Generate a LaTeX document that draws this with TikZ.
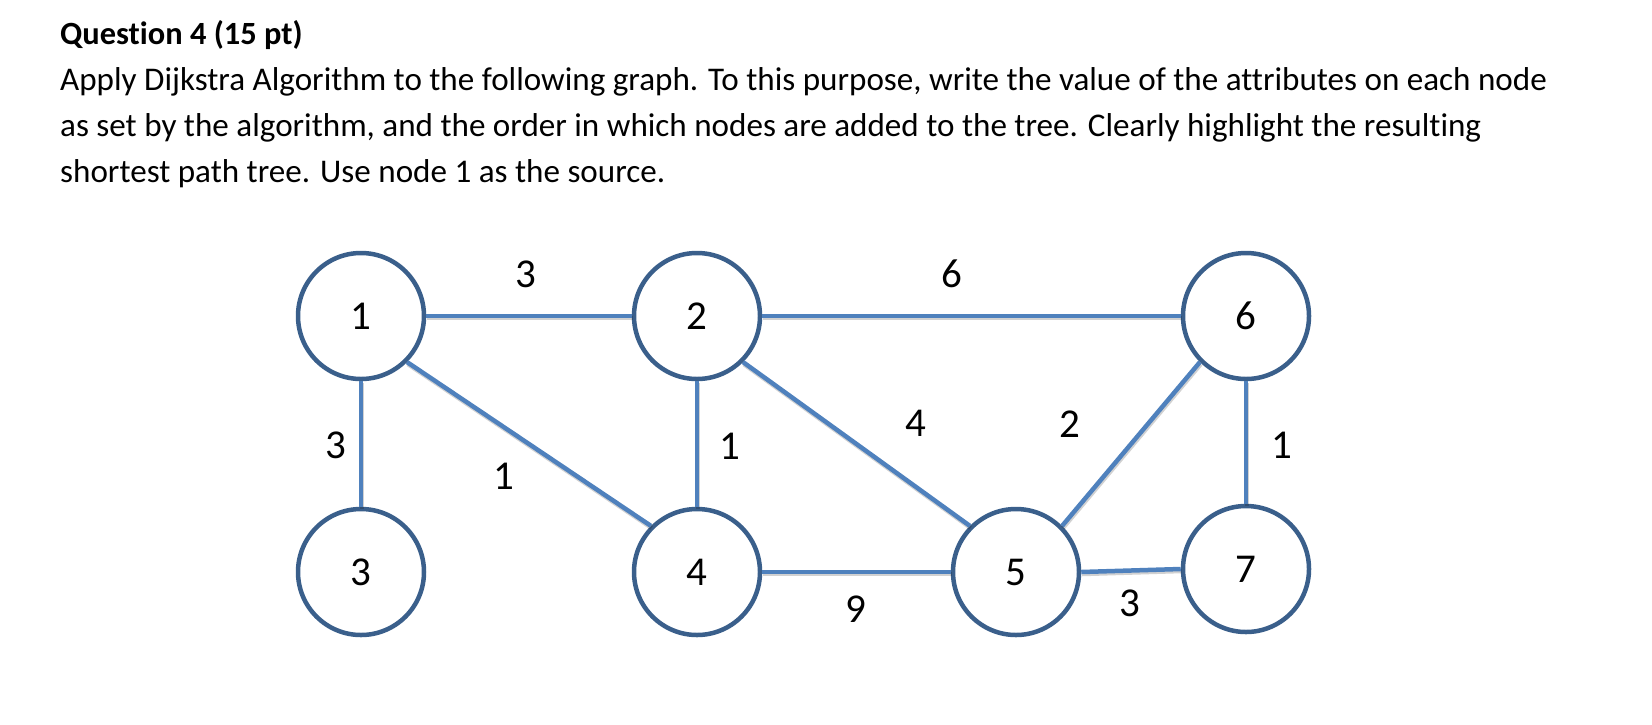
\documentclass[tikz,border=0pt]{standalone}
\usepackage{fontspec}
\setmainfont{Carlito}[Ligatures=NoCommon]
\definecolor{ringblue}{HTML}{3A5F8B}
\definecolor{edgeblue}{HTML}{4F81BD}
\tikzset{
  vert/.style={circle, draw=ringblue, line width=4.5pt, fill=white, minimum size=126pt, inner sep=0pt,
    font=\fontsize{41}{41}\selectfont},
  wline/.style={draw=edgeblue, line width=4.5pt,
    preaction={draw=black, opacity=0.18, line width=4.5pt, transform canvas={shift={(0.8pt,-2pt)}}}},
  wlabel/.style={inner sep=0pt, font=\fontsize{41}{41}\selectfont},
  txt/.style={anchor=base west, inner sep=0pt, font=\fontsize{33.1}{38}\selectfont}
}
\begin{document}
\begin{tikzpicture}[x=1pt,y=-1pt]
\useasboundingbox (0,0) rectangle (1652,724);
% text
\node[txt, font=\fontsize{32.4}{38}\selectfont\bfseries] (t1) at (60,44) {Question 4 (15 pt)};
\node[txt] (t2) at (60,90) {Apply Dijkstra Algorithm to the following graph. To this purpose, write the value of the attributes on each node};
\node[txt] (t3) at (60,136.5) {as set by the algorithm, and the order in which nodes are added to the tree. Clearly highlight the resulting};
\node[txt] (t4) at (60,182.5) {shortest path tree. Use node 1 as the source.};
% vertices
\node[vert] (n1) at (361,316) {1};
\node[vert] (n2) at (697,316) {2};
\node[vert] (n6) at (1246,316) {6};
\node[vert] (n3) at (361,572) {3};
\node[vert] (n4) at (697,572) {4};
\node[vert] (n5) at (1016,572) {5};
\node[vert] (n7) at (1246,569) {7};
% edges
\draw[wline] (n1.east) -- (n2.west);
\draw[wline] (n2.east) -- (n6.west);
\draw[wline] (n1.south) -- (n3.north);
\draw[wline] (n1.south east) -- (n4.north west);
\draw[wline] (n2.south) -- (n4.north);
\draw[wline] (n2.south east) -- (n5.north west);
\draw[wline] (n5.north east) -- (n6.south west);
\draw[wline] (n6.south) -- (n7.north);
\draw[wline] (n4.east) -- (n5.west);
\draw[wline] (n5.east) -- (n7.west);
% weights
\node[wlabel] (w12) at (526,274) {3};
\node[wlabel] (w26) at (952,274) {6};
\node[wlabel] (w13) at (336,445) {3};
\node[wlabel] (w14) at (504,476) {1};
\node[wlabel] (w24) at (730,446) {1};
\node[wlabel] (w25) at (916,423) {4};
\node[wlabel] (w56) at (1070,424) {2};
\node[wlabel] (w67) at (1282,445) {1};
\node[wlabel] (w45) at (856,609) {9};
\node[wlabel] (w57) at (1130,603) {3};
\end{tikzpicture}
\end{document}
